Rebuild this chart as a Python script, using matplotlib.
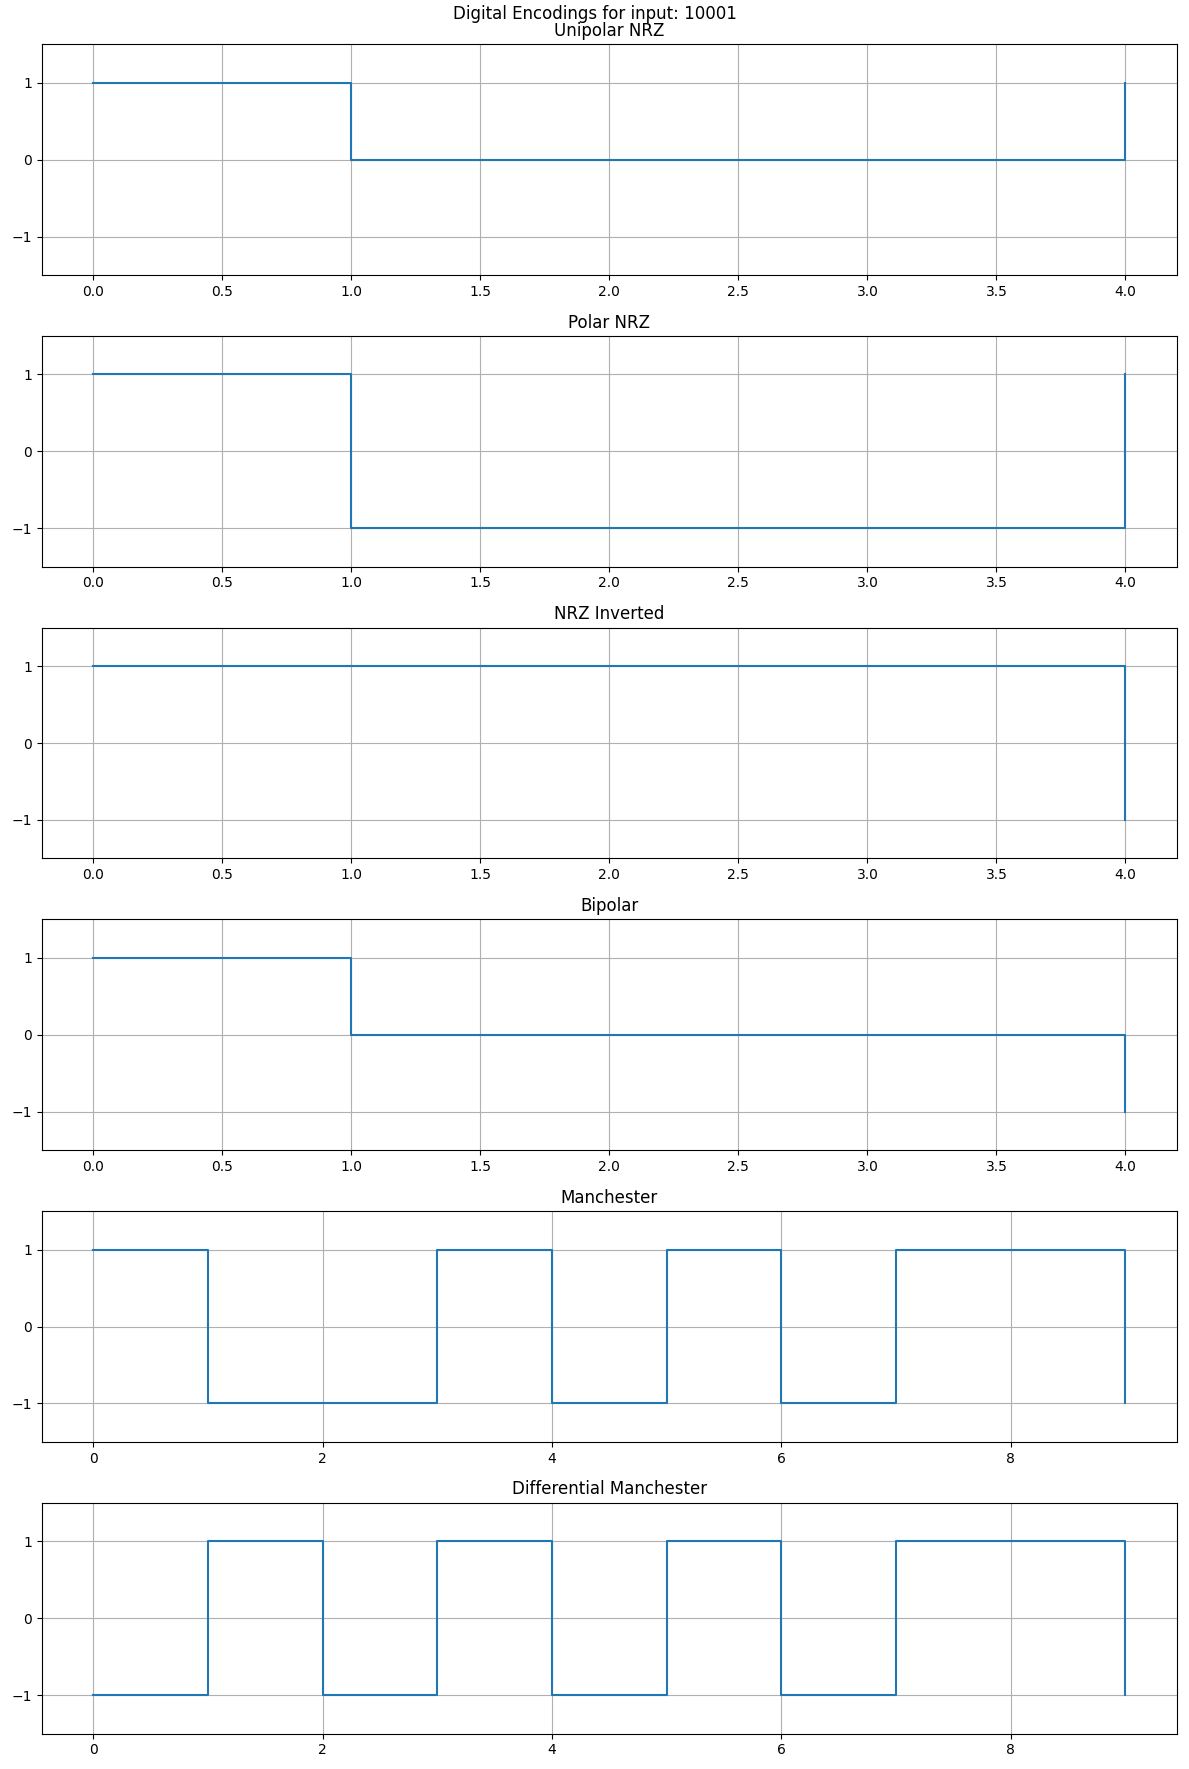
import matplotlib
matplotlib.use("Agg")
import matplotlib.pyplot as plt

titles = ["Unipolar NRZ", "Polar NRZ", "NRZ Inverted", "Bipolar", "Manchester", "Differential Manchester"]
unipolar = [1, 0, 0, 0, 1]
polar = [1, -1, -1, -1, 1]
nrzi = [1, 1, 1, 1, -1]
bipolar = [1, 0, 0, 0, -1]
manchester = [1, -1, -1, 1, -1, 1, -1, 1, 1, -1]
diff_manchester = [-1, 1, -1, 1, -1, 1, -1, 1, 1, -1]
series = [unipolar, polar, nrzi, bipolar, manchester, diff_manchester]

fig, axes = plt.subplots(6, 1, figsize=(11.89, 17.69), dpi=100)
for ax, t, s in zip(axes, titles, series):
    ax.step(range(len(s)), s, where="post")
    ax.set_title(t)
    ax.set_ylim(-1.5, 1.5)
    ax.set_yticks([-1, 0, 1])
    ax.grid(True)
plt.tight_layout()
fig.subplots_adjust(top=0.975, bottom=0.02, left=0.035, right=0.99)
fig.suptitle("Digital Encodings for input: 10001", y=0.997)
fig.savefig("out.png")
